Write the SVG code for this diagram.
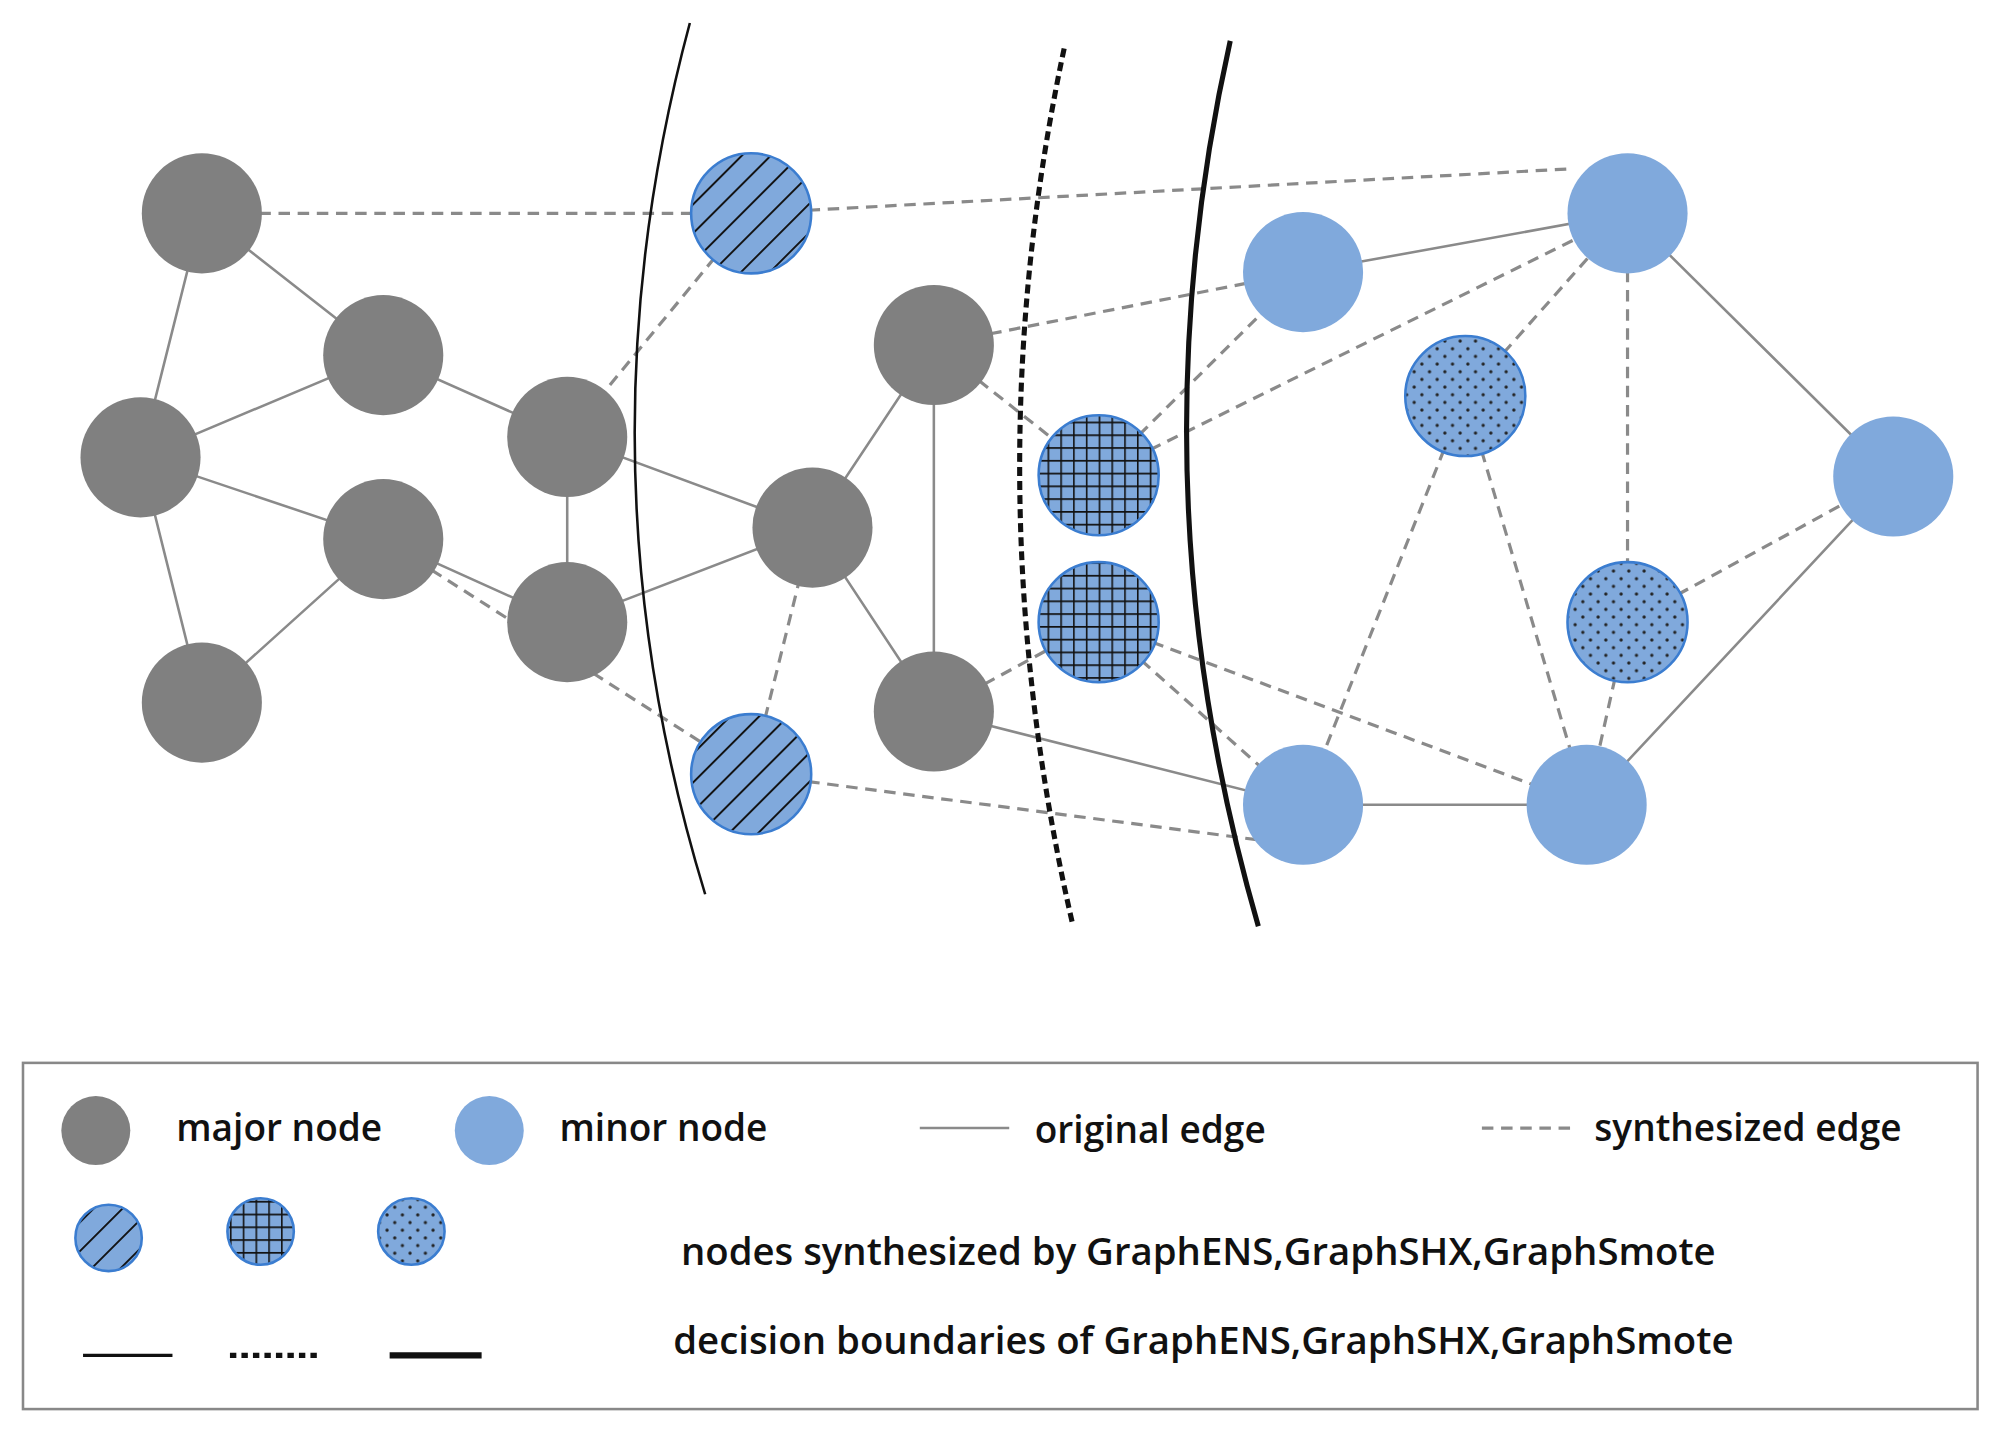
<svg xmlns="http://www.w3.org/2000/svg" width="2003" height="1437" viewBox="0 0 2003 1437">
<defs>
<style>
.maj{fill:#808080}
.min{fill:#80a9dc}
.syn{stroke:#3b7dd0;stroke-width:2}
.e{stroke:#8a8a8a;stroke-width:2;fill:none}
.d{stroke:#8a8a8a;stroke-width:2.5;stroke-dasharray:9,6;fill:none}
.t{font-family:"Open Sans","Liberation Sans",sans-serif;font-size:29px;font-weight:600;fill:#111}
</style>
<pattern id="hatch" patternUnits="userSpaceOnUse" width="16" height="16" patternTransform="rotate(45)">
<rect width="16" height="16" fill="#80a9dc"/><line x1="0" y1="0" x2="0" y2="16" stroke="#111" stroke-width="3"/>
</pattern>
<pattern id="grid" patternUnits="userSpaceOnUse" width="10" height="10">
<rect width="10" height="10" fill="#80a9dc"/><path d="M0 0H10M0 0V10" stroke="#111" stroke-width="2.5"/>
</pattern>
<pattern id="dots" patternUnits="userSpaceOnUse" width="12" height="12">
<rect width="12" height="12" fill="#80a9dc"/><circle cx="3" cy="3" r="1.3" fill="#222"/><circle cx="9" cy="9" r="1.3" fill="#222"/>
</pattern>
</defs>
<rect width="2003" height="1437" fill="#fff"/>
<g transform="scale(1.2775)">
<g id="connectors">
<path class="e" d="M158 167L300 278M158 167L110 358M110 358L300 278M110 358L300 422M110 358L158 550M158 550L300 422M300 278L444 342M300 422L444 487M444 342L444 487M444 342L636 413M444 487L636 413M636 413L731 270M636 413L731 557M731 270L731 557M731 557L1020 630M1020 213L1274 167M1274 167L1482 373M1482 373L1242 630M1020 630L1242 630"/>
<path class="d" d="M158 167L588 167M588 167L1232 132M588 167L444 342M300 422L588 606M588 606L636 413M588 606L1020 662M731 270L1020 213M731 270L860 372M731 557L860 487M860 372L1020 213M860 372L1274 167M860 487L1020 630M860 487L1242 630M1147 310L1020 630M1147 310L1242 630M1147 310L1274 167M1274 167L1274 487M1274 487L1482 373M1274 487L1242 630"/>
<path d="M540 18Q448 360 552 700" stroke="#111" stroke-width="2" fill="none"/>
<path d="M833 38Q760 380 840 725" stroke="#111" stroke-width="4" stroke-dasharray="7,4" fill="none"/>
<path d="M963 32Q885 380 985 725" stroke="#111" stroke-width="4" fill="none"/>
</g>
<g id="n-major">
<circle class="maj" cx="158" cy="167" r="47"/><circle class="maj" cx="300" cy="278" r="47"/>
<circle class="maj" cx="110" cy="358" r="47"/><circle class="maj" cx="300" cy="422" r="47"/>
<circle class="maj" cx="158" cy="550" r="47"/><circle class="maj" cx="444" cy="342" r="47"/>
<circle class="maj" cx="444" cy="487" r="47"/><circle class="maj" cx="636" cy="413" r="47"/>
<circle class="maj" cx="731" cy="270" r="47"/><circle class="maj" cx="731" cy="557" r="47"/>
</g>
<g id="n-minor">
<circle class="min" cx="1020" cy="213" r="47"/><circle class="min" cx="1274" cy="167" r="47"/>
<circle class="min" cx="1482" cy="373" r="47"/><circle class="min" cx="1020" cy="630" r="47"/>
<circle class="min" cx="1242" cy="630" r="47"/>
</g>
<g id="n-synth">
<circle class="syn" fill="url(#hatch)" cx="588" cy="167" r="47"/><circle class="syn" fill="url(#hatch)" cx="588" cy="606" r="47"/>
<circle class="syn" fill="url(#grid)" cx="860" cy="372" r="47"/><circle class="syn" fill="url(#grid)" cx="860" cy="487" r="47"/>
<circle class="syn" fill="url(#dots)" cx="1147" cy="310" r="47"/><circle class="syn" fill="url(#dots)" cx="1274" cy="487" r="47"/>
</g>
<g id="legend">
<rect x="18" y="832" width="1530" height="271" fill="#fff" stroke="#888" stroke-width="2"/>
<circle class="maj" cx="75" cy="885" r="27"/>
<text class="t" x="138" y="893">major node</text>
<circle class="min" cx="383" cy="885" r="27"/>
<text class="t" x="438" y="893">minor node</text>
<line class="e" x1="720" y1="883" x2="790" y2="883"/>
<text class="t" x="810" y="895">original edge</text>
<line class="d" x1="1160" y1="883" x2="1230" y2="883"/>
<text class="t" x="1248" y="893">synthesized edge</text>
<circle class="syn" fill="url(#hatch)" cx="85" cy="969" r="26"/>
<circle class="syn" fill="url(#grid)" cx="204" cy="964" r="26"/>
<circle class="syn" fill="url(#dots)" cx="322" cy="964" r="26"/>
<text class="t" x="533" y="990" textLength="810" lengthAdjust="spacingAndGlyphs">nodes synthesized by GraphENS,GraphSHX,GraphSmote</text>
<line x1="65" y1="1061" x2="135" y2="1061" stroke="#111" stroke-width="2.5"/>
<line x1="180" y1="1061" x2="250" y2="1061" stroke="#111" stroke-width="4" stroke-dasharray="5,4"/>
<line x1="305" y1="1061" x2="377" y2="1061" stroke="#111" stroke-width="5"/>
<text class="t" x="527" y="1060" textLength="830" lengthAdjust="spacingAndGlyphs">decision boundaries of GraphENS,GraphSHX,GraphSmote</text>
</g>
</g>
</svg>
